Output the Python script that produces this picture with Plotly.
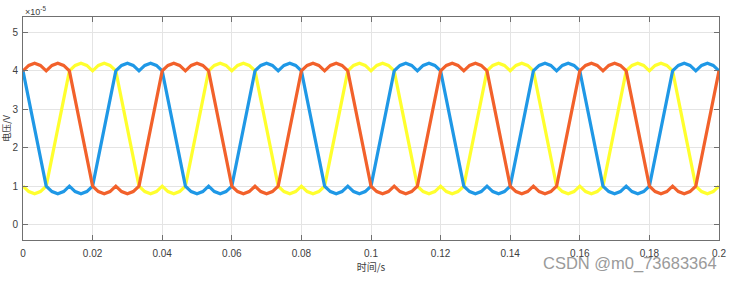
import plotly.graph_objects as go

# sample times (s): one sample every 1/600 s from 0 to 0.2 s
time_s = [i / 600 for i in range(121)]

# phase voltages, in units of 1e-5 V
phase_a_orange = [
    4.0, 4.14, 4.2, 4.14, 4.0, 4.14, 4.2, 4.14, 4.0, 3.25, 2.5, 1.75, 1.0, 0.86, 0.8, 0.86, 1.0, 0.86, 0.8, 0.86, 1.0, 1.75, 2.5, 3.25,
    4.0, 4.14, 4.2, 4.14, 4.0, 4.14, 4.2, 4.14, 4.0, 3.25, 2.5, 1.75, 1.0, 0.86, 0.8, 0.86, 1.0, 0.86, 0.8, 0.86, 1.0, 1.75, 2.5, 3.25,
    4.0, 4.14, 4.2, 4.14, 4.0, 4.14, 4.2, 4.14, 4.0, 3.25, 2.5, 1.75, 1.0, 0.86, 0.8, 0.86, 1.0, 0.86, 0.8, 0.86, 1.0, 1.75, 2.5, 3.25,
    4.0, 4.14, 4.2, 4.14, 4.0, 4.14, 4.2, 4.14, 4.0, 3.25, 2.5, 1.75, 1.0, 0.86, 0.8, 0.86, 1.0, 0.86, 0.8, 0.86, 1.0, 1.75, 2.5, 3.25,
    4.0, 4.14, 4.2, 4.14, 4.0, 4.14, 4.2, 4.14, 4.0, 3.25, 2.5, 1.75, 1.0, 0.86, 0.8, 0.86, 1.0, 0.86, 0.8, 0.86, 1.0, 1.75, 2.5, 3.25,
    4.0,
]
phase_b_blue = [
    4.0, 3.25, 2.5, 1.75, 1.0, 0.86, 0.8, 0.86, 1.0, 0.86, 0.8, 0.86, 1.0, 1.75, 2.5, 3.25, 4.0, 4.14, 4.2, 4.14, 4.0, 4.14, 4.2, 4.14,
    4.0, 3.25, 2.5, 1.75, 1.0, 0.86, 0.8, 0.86, 1.0, 0.86, 0.8, 0.86, 1.0, 1.75, 2.5, 3.25, 4.0, 4.14, 4.2, 4.14, 4.0, 4.14, 4.2, 4.14,
    4.0, 3.25, 2.5, 1.75, 1.0, 0.86, 0.8, 0.86, 1.0, 0.86, 0.8, 0.86, 1.0, 1.75, 2.5, 3.25, 4.0, 4.14, 4.2, 4.14, 4.0, 4.14, 4.2, 4.14,
    4.0, 3.25, 2.5, 1.75, 1.0, 0.86, 0.8, 0.86, 1.0, 0.86, 0.8, 0.86, 1.0, 1.75, 2.5, 3.25, 4.0, 4.14, 4.2, 4.14, 4.0, 4.14, 4.2, 4.14,
    4.0, 3.25, 2.5, 1.75, 1.0, 0.86, 0.8, 0.86, 1.0, 0.86, 0.8, 0.86, 1.0, 1.75, 2.5, 3.25, 4.0, 4.14, 4.2, 4.14, 4.0, 4.14, 4.2, 4.14,
    4.0,
]
phase_c_yellow = [
    1.0, 0.86, 0.8, 0.86, 1.0, 1.75, 2.5, 3.25, 4.0, 4.14, 4.2, 4.14, 4.0, 4.14, 4.2, 4.14, 4.0, 3.25, 2.5, 1.75, 1.0, 0.86, 0.8, 0.86,
    1.0, 0.86, 0.8, 0.86, 1.0, 1.75, 2.5, 3.25, 4.0, 4.14, 4.2, 4.14, 4.0, 4.14, 4.2, 4.14, 4.0, 3.25, 2.5, 1.75, 1.0, 0.86, 0.8, 0.86,
    1.0, 0.86, 0.8, 0.86, 1.0, 1.75, 2.5, 3.25, 4.0, 4.14, 4.2, 4.14, 4.0, 4.14, 4.2, 4.14, 4.0, 3.25, 2.5, 1.75, 1.0, 0.86, 0.8, 0.86,
    1.0, 0.86, 0.8, 0.86, 1.0, 1.75, 2.5, 3.25, 4.0, 4.14, 4.2, 4.14, 4.0, 4.14, 4.2, 4.14, 4.0, 3.25, 2.5, 1.75, 1.0, 0.86, 0.8, 0.86,
    1.0, 0.86, 0.8, 0.86, 1.0, 1.75, 2.5, 3.25, 4.0, 4.14, 4.2, 4.14, 4.0, 4.14, 4.2, 4.14, 4.0, 3.25, 2.5, 1.75, 1.0, 0.86, 0.8, 0.86,
    1.0,
]

x_tick_vals = [0, 0.02, 0.04, 0.06, 0.08, 0.1, 0.12, 0.14, 0.16, 0.18, 0.2]
x_tick_text = ["0", "0.02", "0.04", "0.06", "0.08", "0.1", "0.12", "0.14", "0.16", "0.18", "0.2"]
y_tick_vals = [0, 1, 2, 3, 4, 5]
y_tick_text = ["0", "1", "2", "3", "4", "5"]

series = [
    ("C", phase_c_yellow, "#ffff2e"),
    ("B", phase_b_blue, "#1f98e6"),
    ("A", phase_a_orange, "#f2612b"),
]

fig = go.Figure()
for name, vals, col in series:
    fig.add_trace(go.Scatter(x=time_s, y=vals, mode="lines", name=name,
                             line=dict(color=col, width=3.2), showlegend=False))

font_family = "Liberation Sans, Arial, sans-serif"
axis_common = dict(
    showline=True, linecolor="#707070", linewidth=1, mirror="ticks",
    ticks="inside", ticklen=5, tickcolor="#707070", tickwidth=1,
    showgrid=True, gridcolor="#e4e4e4", gridwidth=1, zeroline=False,
    automargin=False,
    tickfont=dict(family=font_family, size=10, color="#404040"),
)

fig.update_layout(
    width=734, height=281,
    margin=dict(l=23, r=15, t=17, b=41),
    paper_bgcolor="white", plot_bgcolor="white",
    xaxis=dict(range=[0, 0.2], tickvals=x_tick_vals, ticktext=x_tick_text,
               title=dict(text="时间/s", font=dict(family="Noto Sans CJK SC", size=10, color="#404040"), standoff=2),
               ticklabelstandoff=4, **axis_common),
    yaxis=dict(range=[-0.4, 5.4], tickvals=y_tick_vals, ticktext=y_tick_text,
               title=dict(text="电压/V", font=dict(family="Noto Sans CJK SC", size=9, color="#404040"), standoff=0),
               ticklabelstandoff=2, **axis_common),
    annotations=[
        dict(text="×10<sup>-5</sup>", xref="paper", yref="paper", x=0, y=1, xanchor="left", yanchor="bottom",
             showarrow=False, font=dict(family=font_family, size=9, color="#404040"), yshift=-2),
        dict(text="CSDN @m0_73683364", xref="paper", yref="paper", x=1.0, y=0, xanchor="right", yanchor="top",
             xshift=0, yshift=-12, showarrow=False,
             font=dict(family=font_family, size=16.5, color="#9a9a9a")),
    ],
)

fig.write_html("out.html")
